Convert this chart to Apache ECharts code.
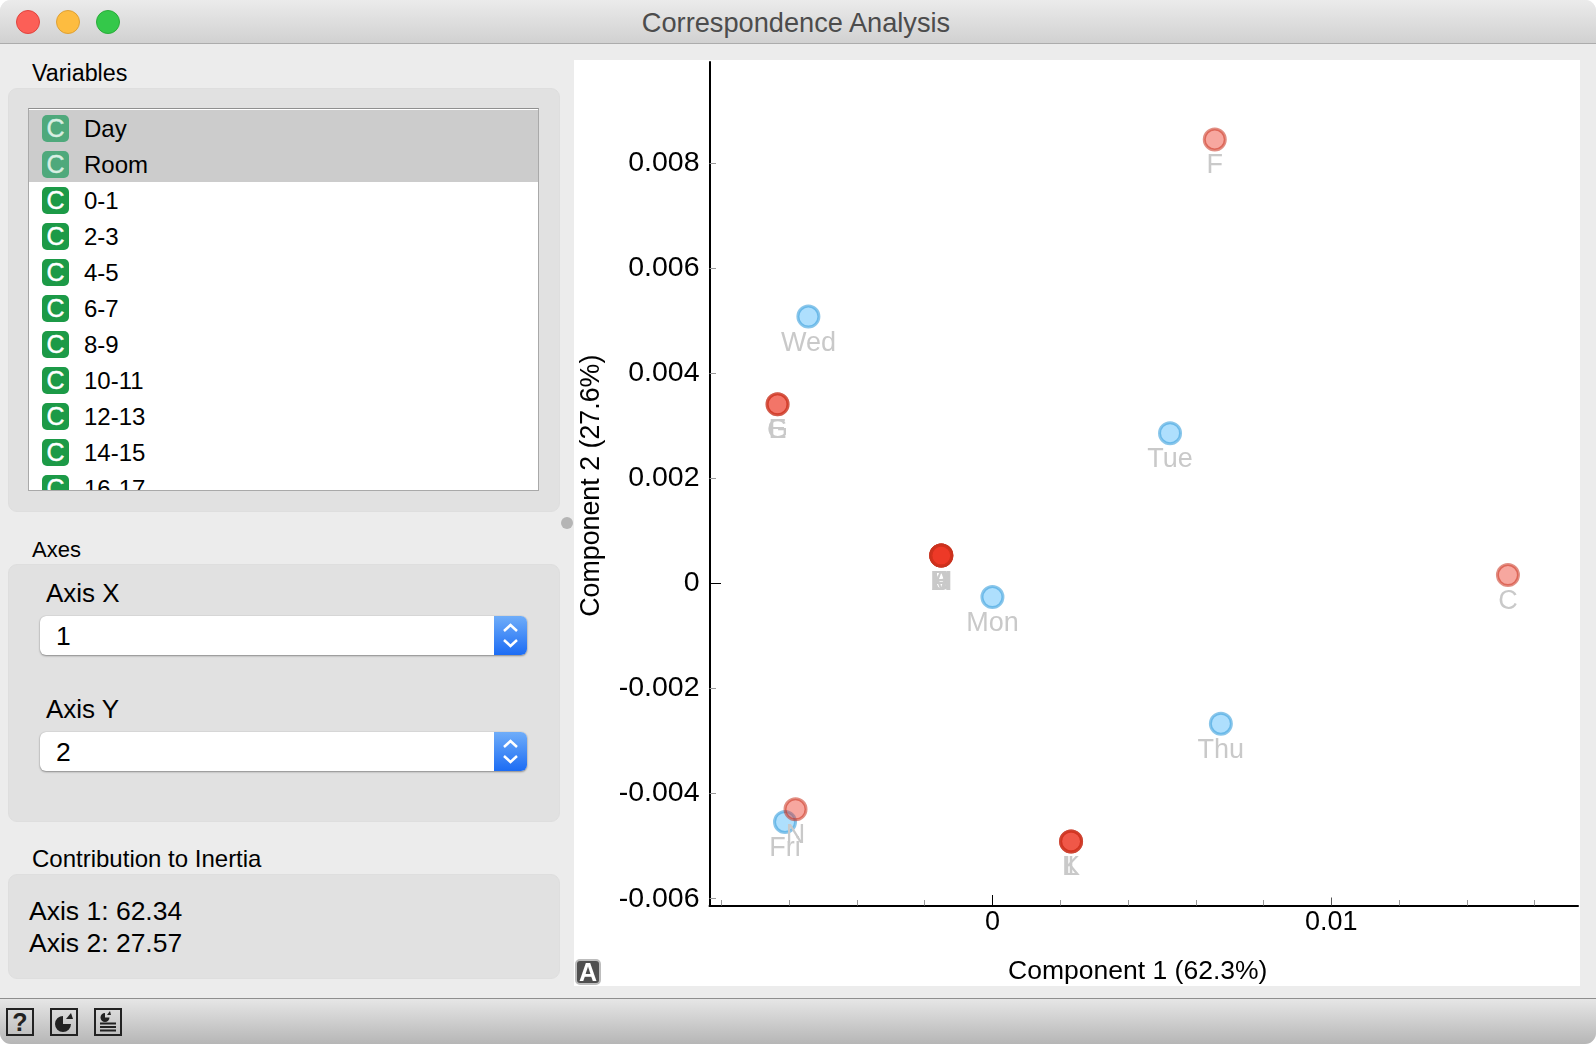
<!DOCTYPE html>
<html>
<head>
<meta charset="utf-8">
<title>Correspondence Analysis</title>
<script src="https://cdn.jsdelivr.net/npm/echarts@6/dist/echarts.min.js"></script>
<style>
  html, body { margin: 0; padding: 0; background: #fff; }
  body { width: 1596px; height: 1044px; overflow: hidden; font-family: "Liberation Sans", Arial, sans-serif; color: #000; }
  #win { position: absolute; left: 0; top: 0; width: 1596px; height: 1044px; background: #ececec; border-radius: 11px; overflow: hidden; }
  #win div, #win svg { position: absolute; }
  .txt { white-space: nowrap; transform: translateY(-50%); }
  #titlebar { left: 0; top: 0; width: 1596px; height: 43px; background: linear-gradient(#ebebeb, #d1d1d1); border-bottom: 1px solid #acacac; }
  #title { left: 0; width: 1592px; top: 23px; text-align: center; font-size: 27.2px; color: #4c4c4c; }
  .light { top: 10px; width: 24px; height: 24px; border-radius: 50%; box-sizing: border-box; }
  .box { background: #e1e1e1; border: 1px solid #dedede; border-radius: 9px; box-sizing: border-box; }
  #list { left: 28px; top: 108px; width: 511px; height: 383px; background: #fff; border: 1px solid #a9a9a9; border-top-color: #8f8f8f; box-sizing: border-box; overflow: hidden; }
  .row { left: 0; width: 100%; height: 36px; }
  .row.sel { background: #cccccc; }
  .ico { left: 13px; top: 5px; width: 27px; height: 27px; border-radius: 5px; background: #1c9a47; color: #fff; font-size: 25px; line-height: 27px; text-align: center; -webkit-text-stroke: 0.4px; }
  .sel .ico { background: #4fa97c; color: #d9efe3; }
  .rowtxt { left: 55px; top: 19px; font-size: 24px; white-space: nowrap; transform: translateY(-50%); }
  .combo { left: 40px; width: 487px; height: 39px; background: #fff; border-radius: 6px; box-shadow: 0 1px 2px #8a8a8a, 0 0 1px #a0a0a0; overflow: hidden; }
  .comboval { left: 16px; top: 20px; font-size: 26.5px; transform: translateY(-50%); }
  .stepper { right: 0; top: 0; width: 33px; height: 39px; background: linear-gradient(#6fadf9, #1c6cf4); }
  #footer { left: 0; top: 998px; width: 1596px; height: 46px; background: linear-gradient(#e6e6e6, #b6b6b6); border-top: 1px solid #8e8e8e; box-sizing: border-box; }
  .fbtn { top: 1008px; width: 28px; height: 28px; border: 2px solid #222; box-sizing: border-box; }
  #plotpanel { left: 574px; top: 60px; width: 1006px; height: 926px; background: #fff; }
  #autosend { left: 575px; top: 959px; width: 26px; height: 26px; background: #4f4f4f; border: 2px solid #bdbdbd; border-radius: 5px; box-sizing: border-box; color: #fff; font-weight: bold; font-size: 25px; line-height: 23px; text-align: center; }
</style>
</head>
<body>
<div id="win">
  <div id="titlebar"></div>
  <div id="title" class="txt">Correspondence Analysis</div>
  <div class="light" style="left:16px;background:#fc5f57;border:1px solid #e0443e"></div>
  <div class="light" style="left:56px;background:#fdbc40;border:1px solid #dea034"></div>
  <div class="light" style="left:96px;background:#34c84a;border:1px solid #2aac3a"></div>

  <div class="txt" style="left:32px;top:73px;font-size:23.3px">Variables</div>
  <div class="box" style="left:8px;top:88px;width:552px;height:424px"></div>
  <div id="list"></div>

  <div style="left:561px;top:517px;width:12px;height:12px;border-radius:50%;background:#b5b5b5"></div>

  <div class="txt" style="left:32px;top:550px;font-size:22px">Axes</div>
  <div class="box" style="left:8px;top:564px;width:552px;height:258px"></div>
  <div class="txt" style="left:46px;top:593px;font-size:26px">Axis X</div>
  <div class="combo" style="top:616px"><div class="comboval">1</div><div class="stepper"><svg width="33" height="39" fill="none" stroke="#fff" stroke-width="2.5"><polyline points="10,15 16.5,9 23,15"/><polyline points="10,24 16.5,30 23,24"/></svg></div></div>
  <div class="txt" style="left:46px;top:709px;font-size:26px">Axis Y</div>
  <div class="combo" style="top:732px"><div class="comboval">2</div><div class="stepper"><svg width="33" height="39" fill="none" stroke="#fff" stroke-width="2.5"><polyline points="10,15 16.5,9 23,15"/><polyline points="10,24 16.5,30 23,24"/></svg></div></div>

  <div class="txt" style="left:32px;top:859px;font-size:24px">Contribution to Inertia</div>
  <div class="box" style="left:8px;top:874px;width:552px;height:105px"></div>
  <div class="txt" style="left:29px;top:911px;font-size:26.5px">Axis 1: 62.34</div>
  <div class="txt" style="left:29px;top:943px;font-size:26.5px">Axis 2: 27.57</div>

  <div id="plotpanel"></div>
  <div id="chart-container" style="left:574px;top:60px;width:1006px;height:926px"></div>
  <div id="autosend">A</div>

  <div id="footer"></div>
  <div class="fbtn" style="left:6px;font-weight:bold;font-size:25px;line-height:24px;text-align:center;color:#222">?</div>
  <div class="fbtn" style="left:50px"><svg width="24" height="24"><path d="M11 6 A8 8 0 1 0 19 14 L11 14 Z" fill="#222"/><path d="M14 9 L19 3 L21 9 Z" fill="#222"/></svg></div>
  <div class="fbtn" style="left:94px"><svg width="24" height="24" fill="#222"><path d="M9 3 A4.5 4.5 0 1 0 13.5 7.5 L9 7.5 Z"/><path d="M11 5 L14 1 L15 5 Z"/><rect x="4" y="12.5" width="16" height="2"/><rect x="4" y="16" width="16" height="2"/><rect x="4" y="19.5" width="16" height="2"/></svg></div>
</div>

<script>
var variables = ['Day', 'Room', '0-1', '2-3', '4-5', '6-7', '8-9', '10-11', '12-13', '14-15', '16-17'];
var selectedCount = 2;

// values
var dayNames = ['Mon', 'Tue', 'Wed', 'Thu', 'Fri'];
var dayX = [0, 0.00524, -0.00543, 0.00674, -0.00612];
var dayY = [-0.00026, 0.00286, 0.00508, -0.00267, -0.00454];

var roomNames = ['A', 'B', 'D', 'H', 'J', 'M', 'E', 'G', 'I', 'K', 'L', 'C', 'F', 'N'];
var roomX = [-0.00151, -0.00151, -0.00151, -0.00151, -0.00151, -0.00151, -0.00634, -0.00634, 0.00232, 0.00232, 0.00232, 0.01521, 0.00656, -0.00581];
var roomY = [0.00053, 0.00053, 0.00053, 0.00053, 0.00053, 0.00053, 0.00341, 0.00341, -0.00491, -0.00491, -0.00491, 0.00016, 0.00845, -0.00430];

var xTicks = [-0.008, -0.006, -0.004, -0.002, 0.002, 0.004, 0.006, 0.008, 0.012, 0.014, 0.016];
var yTicks = [-0.006, -0.004, -0.002, 0.002, 0.004, 0.006, 0.008];
var xLabels = [0, 0.01];
var yLabels = [-0.006, -0.004, -0.002, 0, 0.002, 0.004, 0.006, 0.008];
var xRange = [-0.008348, 0.017277];
var yRange = [-0.00613, 0.009925];

var list = document.getElementById('list');
variables.forEach(function (name, i) {
  var row = document.createElement('div');
  row.className = 'row' + (i < selectedCount ? ' sel' : '');
  row.style.top = (1 + 36 * i) + 'px';
  row.innerHTML = '<div class="ico">C</div><div class="rowtxt">' + name + '</div>';
  list.appendChild(row);
});

function zipPoints(names, xs, ys) {
  return names.map(function (name, i) {
    return { name: name, value: [xs[i], ys[i]] };
  });
}

function pointSeries(names, xs, ys, fill, stroke) {
  return {
    type: 'scatter',
    data: zipPoints(names, xs, ys),
    symbolSize: 21,
    itemStyle: { color: fill, borderColor: stroke, borderWidth: 3, opacity: 1 },
    label: {
      show: true,
      position: 'bottom',
      distance: 1,
      formatter: '{b}',
      color: '#c9c9c9',
      fontSize: 27,
      fontFamily: 'Liberation Sans'
    },
    emphasis: { disabled: true }
  };
}

// one axis per tick style, they all share the same range
function xAxisFor(values, len, color) {
  return {
    type: 'value', position: 'bottom', min: xRange[0], max: xRange[1],
    splitLine: { show: false },
    axisLine: { show: false, onZero: false },
    axisLabel: { show: false },
    axisTick: { show: true, inside: true, length: len, lineStyle: { color: color, width: 1 }, customValues: values }
  };
}
function yAxisFor(values, len, color) {
  return {
    type: 'value', position: 'left', min: yRange[0], max: yRange[1],
    splitLine: { show: false },
    axisLine: { show: false, onZero: false },
    axisLabel: { show: false },
    axisTick: { show: true, inside: true, length: len, lineStyle: { color: color, width: 1 }, customValues: values }
  };
}

var dom = document.getElementById('chart-container');
var myChart = echarts.init(dom, null, { renderer: 'canvas' });

var option = {
  animation: false,
  backgroundColor: 'transparent',
  grid: { left: 135.5, top: 2, right: 2, bottom: 80.5, outerBoundsMode: 'none' },
  xAxis: [
    {
      type: 'value', position: 'bottom', min: xRange[0], max: xRange[1],
      name: 'Component 1 (62.3%)',
      nameLocation: 'middle',
      nameGap: 53,
      nameTextStyle: { color: '#000', fontSize: 26.5, fontFamily: 'Liberation Sans', padding: [0, 12, 0, 0] },
      splitLine: { show: false },
      axisLine: { show: true, onZero: false, lineStyle: { color: '#000', width: 2 } },
      axisTick: { show: false },
      axisLabel: {
        show: true, color: '#000', fontSize: 27, fontFamily: 'Liberation Sans', margin: 4,
        customValues: xLabels
      }
    },
    xAxisFor(xTicks, 5.5, '#999'),
    xAxisFor([0], 10.5, '#000'),
    xAxisFor([0.01], 8, '#555')
  ],
  yAxis: [
    {
      type: 'value', position: 'left', min: yRange[0], max: yRange[1],
      name: 'Component 2 (27.6%)',
      nameLocation: 'middle',
      nameGap: 104,
      nameTextStyle: { color: '#000', fontSize: 26.8, fontFamily: 'Liberation Sans', padding: [0, 4, 0, 0] },
      splitLine: { show: false },
      axisLine: { show: true, onZero: false, lineStyle: { color: '#000', width: 2 } },
      axisTick: { show: false },
      axisLabel: {
        show: true, color: '#000', fontSize: 28.5, fontFamily: 'Liberation Sans', margin: 10,
        customValues: yLabels
      }
    },
    yAxisFor(yTicks, 6.5, '#999'),
    yAxisFor([0], 11.5, '#000')
  ],
  series: [
    pointSeries(dayNames, dayX, dayY, 'rgba(52,175,250,0.4)', 'rgba(60,160,220,0.6)'),
    pointSeries(roomNames, roomX, roomY, 'rgba(237,51,33,0.43)', 'rgba(200,50,30,0.55)')
  ]
};

if (option && typeof option === 'object') {
  myChart.setOption(option);
}

window.addEventListener('resize', myChart.resize);
</script>
</body>
</html>
